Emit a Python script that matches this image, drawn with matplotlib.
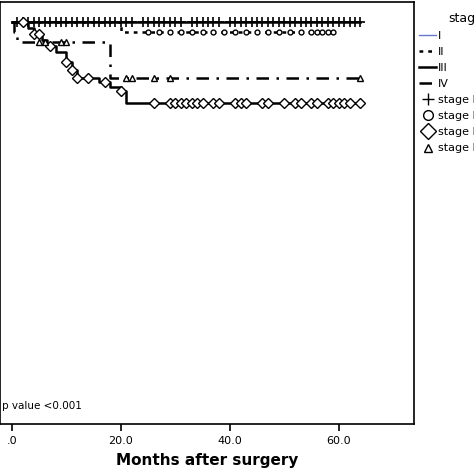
import numpy as np
import matplotlib.pyplot as plt
from matplotlib.lines import Line2D

# step curves: (months, survival)
s1_t = [0, 64]
s1_s = [1.0, 1.0]
s2_t = [0, 20, 59]
s2_s = [1.0, 0.975, 0.975]
s3_t = [0, 3, 4, 5.5, 6.5, 8, 10, 11, 12, 16, 18, 20, 21, 64]
s3_s = [1.0, 0.985, 0.97, 0.955, 0.94, 0.925, 0.9, 0.88, 0.86, 0.85, 0.84, 0.83, 0.80, 0.80]
s4_t = [0, 0.4, 1.0, 18, 64]
s4_s = [1.0, 0.975, 0.95, 0.86, 0.86]

# censored times
c1 = [1, 2, 3, 4, 5, 6, 7, 8, 9, 10, 11, 12, 13, 14, 15, 16, 17, 18, 19, 20, 21, 22,
      24, 25, 26, 27, 28, 29, 30, 31, 33, 34, 35, 36, 37, 38, 40, 41, 42, 43, 44, 45,
      46, 47, 48, 49, 50, 51, 52, 53, 54, 55, 56, 57, 58, 59, 60, 61, 62, 63, 64]
c2 = [25, 27, 29, 31, 33, 35, 37, 39, 41, 43, 45, 47, 49, 51, 53, 55, 56, 57, 58, 59]
c3 = [2, 4, 5, 7, 10, 11, 12, 14, 17, 20, 26, 29, 30, 31, 32, 33, 34, 35, 37, 38,
      41, 42, 43, 46, 47, 50, 52, 53, 55, 56, 58, 59, 60, 61, 62, 64]
c4 = [5, 6, 9, 10, 21, 22, 26, 29, 64]
t4_c_s = [0.95, 0.95, 0.95, 0.95, 0.86, 0.86, 0.86, 0.86, 0.86]


def surv_at(ts, ss, t):
    i = np.searchsorted(ts, t, side='right') - 1
    return ss[max(i, 0)]


fig = plt.figure(figsize=(4.74, 4.74), dpi=100)
ax = fig.add_axes([0.0, 0.105, 0.873, 0.89])

ax.step(s1_t, s1_s, where='post', color='black', lw=1.8, ls='-')
ax.step(s2_t, s2_s, where='post', color='black', lw=1.8, ls=(0, (1.5, 2)))
ax.step(s3_t, s3_s, where='post', color='black', lw=1.8, ls='-')
ax.step(s4_t, s4_s, where='post', color='black', lw=1.8, ls=(0, (5, 3, 1, 3)))

ax.plot(c1, [surv_at(s1_t, s1_s, t) for t in c1], ls='none', marker='+', ms=7, mew=1.2, color='black')
ax.plot(c2, [surv_at(s2_t, s2_s, t) for t in c2], ls='none', marker='o', ms=3.5, mfc='white', mec='black')
ax.plot(c3, [surv_at(s3_t, s3_s, t) for t in c3], ls='none', marker='D', ms=5, mfc='white', mec='black')
ax.plot(c4, t4_c_s, ls='none', marker='^', ms=4, mfc='white', mec='black')

ax.set_xlim(-2.2, 73.8)
ax.set_ylim(-0.003, 1.05)
ax.set_xticks([0, 20, 40, 60])
ax.set_xticklabels(['.0', '20.0', '40.0', '60.0'], fontsize=8)
ax.set_yticks([])
ax.tick_params(axis='x', length=5, width=1.2)
for sp in ax.spines.values():
    sp.set_linewidth(1.2)
ax.set_xlabel('Months after surgery', fontsize=11, fontweight='bold', labelpad=5)
ax.text(0.005, 0.035, 'p value <0.001', transform=ax.transAxes, fontsize=7.5)

handles = [
    Line2D([], [], color='#6677cc', lw=1),
    Line2D([], [], color='black', lw=1.8, ls=(0, (1.5, 2))),
    Line2D([], [], color='black', lw=1.8),
    Line2D([], [], color='black', lw=1.8, ls=(0, (5, 3, 1, 3))),
    Line2D([], [], color='black', marker='+', ls='none', ms=9),
    Line2D([], [], color='black', marker='o', mfc='white', ls='none', ms=7),
    Line2D([], [], color='black', marker='D', mfc='white', ls='none', ms=8),
    Line2D([], [], color='black', marker='^', mfc='white', ls='none', ms=6),
]
labels = ['I', 'II', 'III', 'IV', 'stage I', 'stage II', 'stage III', 'stage IV']
leg = fig.legend(handles, labels, title='stage', loc='upper left',
                 bbox_to_anchor=(0.875, 0.985), frameon=False, fontsize=8,
                 handlelength=1.5, handletextpad=0.2, labelspacing=0.55,
                 title_fontsize=9, borderaxespad=0)
leg._legend_box.align = 'right'

fig.savefig('out.png', dpi=100)
